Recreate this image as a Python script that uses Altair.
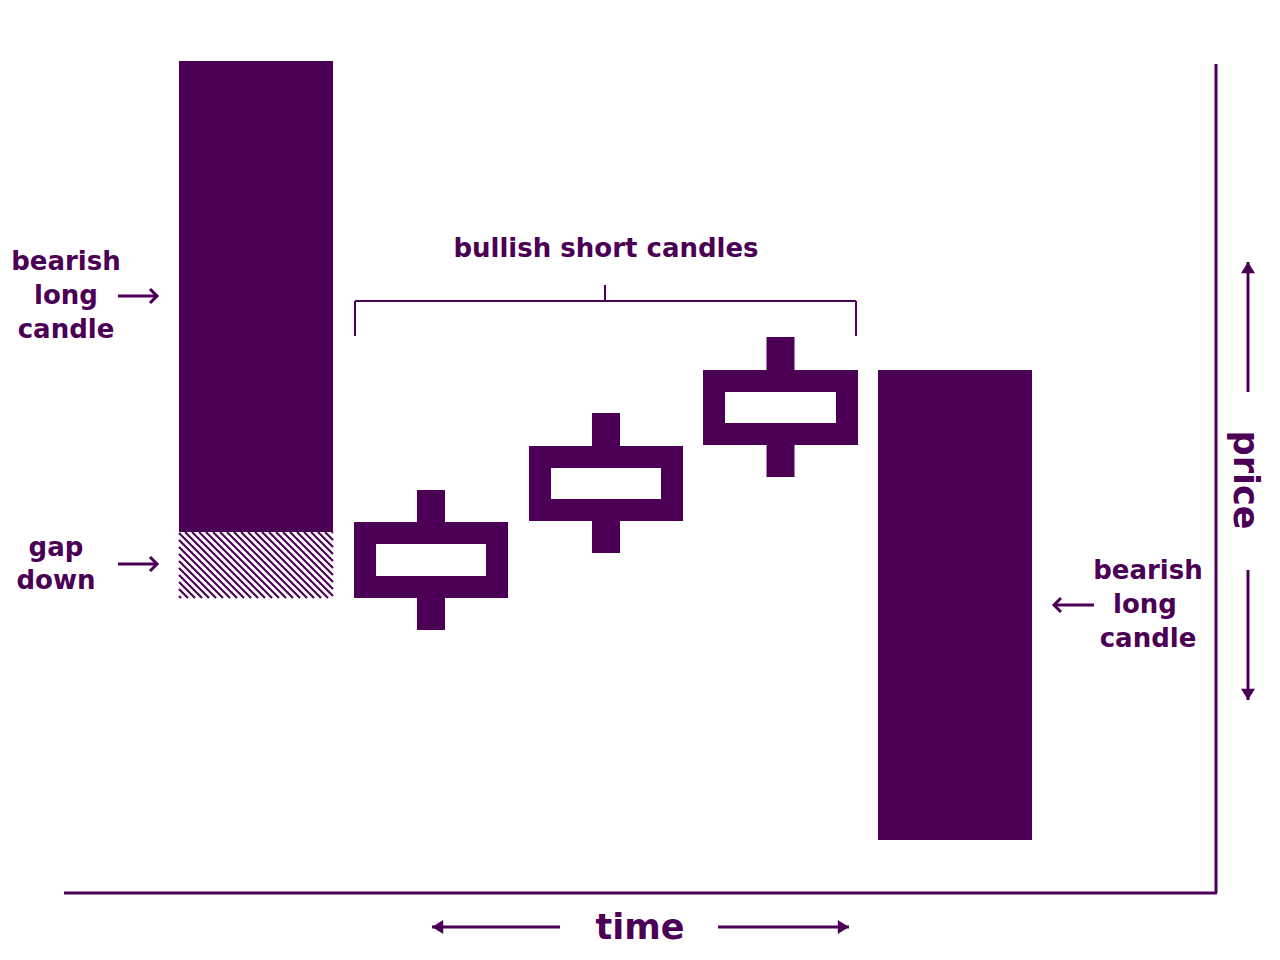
import altair as alt
import pandas as pd
import math

PURPLE = "#4b0055"
FONT = "DejaVu Sans"

# ---- candles: time position (left/right edge) and price levels ----
candle_left = [179, 354, 529, 703, 878]
candle_right = [333, 508, 683, 858, 1032]
body_top = [899, 438, 514, 590, 590]
body_bottom = [428, 362, 439, 515, 120]
high = [899, 470, 547, 623, 590]
low = [428, 330, 407, 483, 120]
kind = ["bearish", "bullish", "bullish", "bullish", "bearish"]

# gap-down zone under the first candle
gap_left, gap_right = 179, 333
gap_top, gap_bottom = 428, 362

# ---- annotation texts ----
label_text = ["bearish", "long", "candle", "gap", "down",
              "bearish", "long", "candle", "bullish short candles"]
label_x = [66, 66, 66, 56, 56, 1148, 1145, 1148, 606]
label_y = [698, 664, 630, 412, 379, 389, 355, 321, 711]

# ---- frame (axes) ----
axis_x = [64, 1216]
axis_x2 = [1217, 1216]
axis_y = [67, 67]
axis_y2 = [67, 896]

# ---- bracket over the short candles ----
br_x = [355, 355, 856, 605]
br_x2 = [856, 355, 856, 605]
br_y = [659, 659, 659, 659]
br_y2 = [659, 624, 624, 675]

# ---- arrows ----
arr_x = [118, 118, 1094, 1248, 1248, 560, 718]
arr_y = [664, 396, 355, 568, 390, 33, 33]
arr_x2 = [157, 157, 1054, 1248, 1248, 432, 849]
arr_y2 = [664, 396, 355, 698, 260, 33, 33]
arr_head = ["chevron", "chevron", "chevron", "tri", "tri", "tri", "tri"]

border = 22
wick_half = 14

candles = pd.DataFrame(dict(left=candle_left, right=candle_right, top=body_top,
                            bottom=body_bottom, high=high, low=low, kind=kind))
candles["center"] = (candles.left + candles.right) / 2
bull = candles[candles.kind == "bullish"].copy()
bull["ileft"] = bull.left + border
bull["iright"] = bull.right - border
bull["itop"] = bull.top - border
bull["ibottom"] = bull.bottom + border
bull["wl"] = bull.center - wick_half
bull["wr"] = bull.center + wick_half

# hatch lines (down-right diagonals) clipped to the gap rectangle
hatch = []
v_top, v_bot = 960 - gap_top, 960 - gap_bottom
step = 7
c = gap_left - v_bot + 2
while c <= gap_right - v_top:
    v0 = max(v_top, gap_left - c)
    v1 = min(v_bot, gap_right - c)
    if v1 > v0:
        hatch.append(dict(x=v0 + c, y=960 - v0, x2=v1 + c, y2=960 - v1))
    c += step
hatch = pd.DataFrame(hatch)

labels = pd.DataFrame(dict(text=label_text, x=label_x, y=label_y))
axes_df = pd.DataFrame(dict(x=axis_x, x2=axis_x2, y=axis_y, y2=axis_y2))
br_df = pd.DataFrame(dict(x=br_x, x2=br_x2, y=br_y, y2=br_y2))
arr_df = pd.DataFrame(dict(x=arr_x, y=arr_y, x2=arr_x2, y2=arr_y2, head=arr_head))
arr_df["angle"] = [
    (math.degrees(math.atan2(-(r.y2 - r.y), r.x2 - r.x)) + 360) % 360
    for r in arr_df.itertuples()
]

xs = alt.Scale(domain=[8, 1272], nice=False, zero=False)
ys = alt.Scale(domain=[8, 952], nice=False, zero=False)


def X(f):
    return alt.X(f, type="quantitative", scale=xs, axis=None)


def Y(f):
    return alt.Y(f, type="quantitative", scale=ys, axis=None)


base_body = alt.Chart(candles).mark_rect(color=PURPLE).encode(
    x=X("left"), x2="right", y=Y("top"), y2="bottom")
inner = alt.Chart(bull).mark_rect(color="white").encode(
    x=X("ileft"), x2="iright", y=Y("itop"), y2="ibottom")
wick_up = alt.Chart(bull).mark_rect(color=PURPLE).encode(
    x=X("wl"), x2="wr", y=Y("high"), y2="top")
wick_dn = alt.Chart(bull).mark_rect(color=PURPLE).encode(
    x=X("wl"), x2="wr", y=Y("bottom"), y2="low")
hatch_l = alt.Chart(hatch).mark_rule(color=PURPLE, strokeWidth=2.2).encode(
    x=X("x"), x2="x2", y=Y("y"), y2="y2")

axes_l = alt.Chart(axes_df).mark_rule(color=PURPLE, strokeWidth=3).encode(
    x=X("x"), x2="x2", y=Y("y"), y2="y2")
br_l = alt.Chart(br_df).mark_rule(color=PURPLE, strokeWidth=2).encode(
    x=X("x"), x2="x2", y=Y("y"), y2="y2")
arr_l = alt.Chart(arr_df).mark_rule(color=PURPLE, strokeWidth=3).encode(
    x=X("x"), x2="x2", y=Y("y"), y2="y2")
chev = alt.Chart(arr_df[arr_df["head"] == "chevron"]).mark_point(
    shape="M -1 -1 L 0 0 L -1 1", filled=False, color=PURPLE, strokeWidth=3,
    size=196, opacity=1).encode(
    x=X("x2"), y=Y("y2"), angle=alt.Angle("angle:Q", scale=None))
tri = alt.Chart(arr_df[arr_df["head"] == "tri"]).mark_point(
    shape="M -1.6 -1 L 0 0 L -1.6 1 Z", filled=True, color=PURPLE,
    size=196, opacity=1, strokeWidth=1.5, strokeJoin="round").encode(
    x=X("x2"), y=Y("y2"), angle=alt.Angle("angle:Q", scale=None))

text_l = alt.Chart(labels).mark_text(
    font=FONT, fontWeight="bold", fontSize=26, color=PURPLE,
    align="center", baseline="middle").encode(
    x=X("x"), y=Y("y"), text="text")
time_l = alt.Chart(pd.DataFrame(dict(text=["time"], x=[640], y=[32]))).mark_text(
    font=FONT, fontWeight="bold", fontSize=35, color=PURPLE,
    align="center", baseline="middle").encode(x=X("x"), y=Y("y"), text="text")
price_l = alt.Chart(pd.DataFrame(dict(text=["price"], x=[1245], y=[480]))).mark_text(
    font=FONT, fontWeight="bold", fontSize=35, color=PURPLE, angle=90,
    align="center", baseline="middle").encode(x=X("x"), y=Y("y"), text="text")

chart = alt.layer(
    base_body, inner, wick_up, wick_dn, hatch_l, axes_l, br_l, arr_l, chev, tri,
    text_l, time_l, price_l
).properties(
    width=1264, height=944, autosize=alt.AutoSizeParams(type="none"), padding=0,
    background="white"
).configure_view(strokeWidth=0)

chart.save("out.html", embed_options={"renderer": "svg", "actions": False})
